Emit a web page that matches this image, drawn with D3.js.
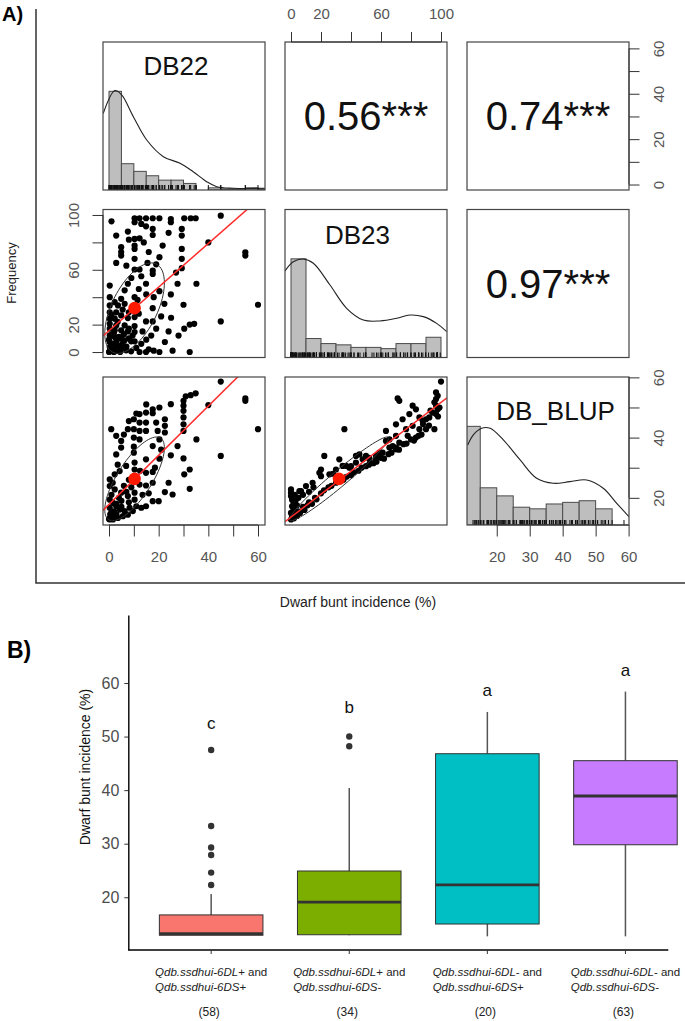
<!DOCTYPE html>
<html>
<head>
<meta charset="utf-8">
<script src="https://cdn.jsdelivr.net/npm/d3@7"></script>
<style>
  body { margin: 0; background: #fff; }
  svg { display: block; font-family: "Liberation Sans", Arial, sans-serif; }
</style>
</head>
<body>
<script>
// ---------- A) pairs plot ----------
const vars = ["DB22", "DB23", "DB_BLUP"]
const ranges = [[0, 60.4], [0, 100], [12.8, 58.3]]
const means = [10.3, 32, 26.3]
const sds = [12, 33, 13.9]

// upper cells [row, col]
const corrCells = [[0, 1], [0, 2], [1, 2]]
const corrLabels = ["0.56***", "0.74***", "0.97***"]
const corrValues = [0.56, 0.74, 0.97]

// lower cells [row, col] and lm fits [intercept, slope]
const lowerCells = [[1, 0], [2, 0], [2, 1]]
const fits = [[15.6, 1.59], [17.8, 0.817], [13.6, 0.381]]

// histograms
const db22Breaks = [0, 5, 10, 15, 20, 25, 30, 35, 40, 45, 50, 55, 60, 65]
const db22Counts = [90, 24, 17, 13, 9, 9, 6, 0, 2, 1, 1, 2, 1]
const db23Breaks = [0, 10, 20, 30, 40, 50, 60, 70, 80, 90, 100]
const db23Counts = [78, 15, 11, 10, 8, 8, 7, 11, 11, 16]
const blupBreaks = [10, 15, 20, 25, 30, 35, 40, 45, 50, 55]
const blupCounts = [61, 23, 18, 11, 10, 13, 14, 15, 10]

// density curves, [value, height in counts]
const db22Density = [[-2.3, 70], [2.4, 90.7], [5.1, 86.7], [9.8, 66.9], [15.2, 45.6], [21.9, 30.4],
  [28.6, 24.4], [33.9, 16.7], [39.3, 7.6], [43.4, 3], [50.1, 1.6], [63.1, 1.6]]
const db23Density = [[-4, 68.4], [1.5, 75.7], [8.2, 77.9], [14.9, 74.5], [26, 57.3], [37.1, 38.9],
  [48.2, 29.6], [59.3, 28.9], [70.5, 31], [79.3, 33.6], [88.2, 32.3], [97.1, 27], [103.8, 20.4]]
const blupDensity = [[11.2, 49.5], [12.9, 55.7], [15.4, 59.8], [18, 59.8], [22, 52.6], [27.1, 40.2],
  [32.1, 28.9], [37.2, 25.8], [42.2, 26.8], [47.3, 27.8], [52.3, 22.7], [56.4, 13.4], [60.1, 5.1]]

// scatter points [x, y]
const db22VsDb23 = [
  [1, 95.4], [10.3, 97.6], [12.3, 97.6], [14.9, 97.6], [17.6, 97.6], [20.3, 97.6], [24.9, 97], [30.3, 97.6],
  [32.9, 97.6], [34.9, 97.6], [45, 99.5], [24.9, 94.7], [10.3, 94.7], [13, 93.5], [14.9, 91.7], [17.6, 89.8],
  [17.6, 85.4], [7.6, 87.9], [2.9, 85], [29.3, 89.8], [29.3, 85], [10.3, 82.5], [12.3, 83], [21.6, 77.7],
  [29.3, 75.2], [40, 80], [10.3, 77.7], [10.3, 75.2], [4.9, 76.5], [4.9, 73], [4.9, 70.4], [20.3, 69.2],
  [29.3, 68], [54.9, 72.8], [54.9, 70.4], [2.9, 65], [10.3, 68], [29.3, 61.2], [10.3, 60.2], [12.3, 60.2],
  [17.6, 59.5], [17.6, 57], [13, 55.3], [14.9, 49.8], [7.6, 49.8], [0.3, 48.5], [27.6, 49.8], [35.2, 49.8],
  [20.3, 44.4], [24.9, 42], [0.3, 40], [6.3, 45], [10.3, 40], [4.9, 38.8], [2.3, 36.4], [0.3, 34], [3.6, 34],
  [6.3, 35.2], [17.6, 32], [22.3, 35.2], [30, 34.5], [60, 34.5], [0.3, 29], [2.9, 29], [0.3, 24.3], [2.3, 24.3],
  [4.9, 26.7], [7.6, 24.8], [10.3, 25.5], [14.9, 22.3], [17.6, 22.3], [45, 22.3], [32.5, 20], [34.3, 20.6],
  [0.3, 20.6], [2.9, 19.4], [6.3, 19.4], [10.3, 18.9], [0.3, 17], [2.3, 15.8], [4.9, 15.8], [7.6, 15],
  [10.3, 14.6], [30.3, 17], [24, 15], [0.3, 12.1], [2.3, 10.9], [4.9, 9.7], [6.3, 8.5], [8.9, 7.8], [10.3, 7.8],
  [22.5, 7.3], [0.3, 7.3], [1.6, 6], [3.6, 4.9], [0.3, 3.6], [2.3, 2.4], [4.3, 1.9], [6.9, 1.2], [0.3, 0.5],
  [1.6, 0.5], [8.9, 0.5], [12.3, 0], [14.9, 0], [20.3, 0], [25.6, 1], [32.5, 0],
  [0, 0], [0.8, 1.5], [1.2, 3], [2, 0], [2.8, 0.8], [3.5, 2.8], [4.5, 0], [5.5, 3.5], [0, 9], [1, 12.5],
  [2, 14], [3, 8], [4, 11], [5.5, 6], [7, 4], [8, 10], [9.5, 12], [11, 3], [13, 6], [16, 2], [18, 1], [6, 13],
  [8, 17], [3.5, 22], [1, 27], [5.5, 31], [8, 29], [12, 28], [13.5, 15], [15, 9], [17, 12], [19, 17], [21, 26],
  [11.5, 38], [15, 42], [18, 40], [9, 54], [7, 63], [19, 64], [16, 73], [14, 80], [8, 82], [24, 87], [27, 58],
  [25, 25], [28, 12], [12, 46], [15.5, 65]
]
const db22VsBlup = [
  [45, 58.6], [54.9, 53], [54.9, 52.2], [60, 42.8], [45, 33.9], [40, 50.8], [35.2, 39.4], [34.9, 54.7],
  [32.9, 54.1], [30.9, 53.7], [30, 52.2], [30, 50.6], [30, 48.9], [30, 46.7], [30, 44.4], [30, 42.2], [30, 33.1],
  [30.3, 27.8], [32.5, 29.4], [32.5, 23], [24.9, 51.1], [27.6, 37.2], [24.9, 34.1], [24, 25], [25.6, 21.1],
  [22.5, 46.1], [22.5, 43.9], [22.5, 41.7], [20.3, 50], [17.6, 49.4], [17.6, 48.1], [14.9, 48.3], [12.3, 47.8],
  [19.6, 42.2], [20.3, 39.4], [20.3, 33], [22.5, 21.9], [20, 18.9], [17.6, 37.2], [17.6, 28.6], [17.6, 25],
  [14.9, 45], [14.9, 42.2], [12.3, 45], [12.3, 42.2], [12.3, 39.4], [10, 46.1], [10, 42.8], [10, 40], [10, 37],
  [10, 35], [7.6, 42.8], [4.9, 38.9], [4.9, 36.7], [2.9, 40.6], [0.9, 42.8], [2.9, 34.4], [14.9, 32.8],
  [14.9, 28.3], [12.3, 24.4], [14.9, 24.1], [10.3, 31.7], [10.3, 29.4], [10.3, 21.7], [10.3, 19.4], [6.9, 30.6],
  [4.3, 28.9], [2.3, 27.8], [0.3, 26.1], [0.3, 23.9], [2.3, 22.8], [4.9, 21.7], [7.6, 20.6], [0.3, 19.4],
  [1.6, 18.3], [2.9, 17.2], [4.3, 16.1], [6.3, 15.6], [8.3, 16.7], [11, 17.2], [13, 16.7], [14.9, 17.2],
  [17.6, 18.9], [0.3, 16.7], [0.9, 15], [2.3, 13.9], [0.3, 12.8], [1.6, 12.8], [3.6, 13.3], [5.6, 13.9],
  [7.6, 14.4], [9.6, 15.6], [0, 13], [1, 14], [2, 15.5], [3, 18], [4, 20], [5, 19], [6, 24], [7, 22], [8, 26],
  [9, 23.5], [11, 26], [12.5, 29], [13.5, 21], [16, 21.5], [18.5, 30], [21, 36], [19, 45], [15, 51], [11, 48],
  [8, 45.5], [6, 41], [3.5, 31], [1.5, 25], [1, 21], [0.5, 14.5], [3, 14.5], [5, 17], [8, 18.5]
]
const db23VsBlup = [
  [100, 58.6], [96.7, 55], [97.8, 53.9], [96.7, 52.8], [95.6, 51.7], [96.7, 50.6], [97.8, 49.4], [94.4, 48.3],
  [96.7, 47.8], [92.2, 46.7], [90, 46.1], [87.8, 45.6], [95.6, 42.8], [98, 47], [99, 50], [93, 49],
  [71.1, 53], [72.2, 52.2], [35.6, 42.8], [81.1, 50.6], [83.3, 49.4], [78.9, 47.8], [85.6, 46.7], [74.4, 46.1],
  [81.1, 43.9], [76.7, 42.8], [85.6, 42.8], [70, 44.4], [63.3, 42.2], [70, 40.6], [77.8, 40.6], [83.3, 40],
  [72.2, 38.3], [65.6, 36.7], [61.1, 35], [56.7, 33.9], [52.2, 32.8], [47.8, 32.8], [50, 33.9], [43.3, 31.7],
  [36.7, 30.6], [30, 29.4], [25.6, 27.8], [20, 27.2], [14.4, 25], [10, 23.9], [5.6, 22.2],
  [60, 33.3], [65, 34.5], [70, 36.1], [75, 37.8], [80, 39.4], [85, 40.6], [90, 42.8], [88, 44.5], [92, 44],
  [55, 31.5], [50, 30.5], [45, 29], [40, 27.5], [35, 26], [30, 25], [25, 23.5], [20, 21.5], [16, 20], [12, 18.5],
  [8, 17], [5, 15.5], [3, 14.5], [1, 13.5], [0, 12.8], [2, 13.2], [4, 14], [6, 15], [9, 16], [11, 17.5],
  [14, 18], [17, 19.5], [22, 22.5], [27, 24], [32, 25.5], [37, 27], [42, 28.5], [47, 30], [52, 31], [57, 32],
  [62, 33], [67, 35], [72, 36], [77, 38], [82, 39], [87, 41],
  [22.2, 33.9], [6.7, 22.2], [20, 29.4], [18.9, 28.3], [32.2, 32.8], [34.4, 30.6], [38.9, 30], [43.3, 33.9],
  [45.6, 34.4], [52.2, 33.3], [56.7, 32.8], [58.9, 35], [63.3, 38.9], [65.6, 39.4], [67.8, 37.2], [70, 36.7],
  [0, 22.8], [0, 21.7], [0, 20.6], [0.7, 19.4], [1.7, 18.3], [0.7, 17.2], [1.7, 16.1], [0, 15], [0.7, 13.9],
  [3, 19], [4, 17.5], [2.5, 21], [5, 20], [8, 21], [12, 22], [15, 23.5], [28, 28], [40, 30.5]
]

// axis ticks and the labels R kept
const db22Ticks = [0, 10, 20, 30, 40, 50, 60]
const db22TickLabels = [0, 20, 40, 60]
const db23Ticks = [0, 20, 40, 60, 80, 100]
const db23TickLabels = [0, 20, 60, 100]
const blupTicks = [20, 30, 40, 50, 60]
const blupTickLabelsX = [20, 30, 40, 50, 60]
const blupTickLabelsY = [20, 40, 60]

// ---------- B) boxplot ----------
const groups = ["DL+DS+", "DL+DS-", "DL-DS+", "DL-DS-"]
const labelLine1 = [["Qdb.ssdhui-6DL", "+ and"], ["Qdb.ssdhui-6DL", "+ and"], ["Qdb.ssdhui-6DL", "- and"], ["Qdb.ssdhui-6DL", "- and"]]
const labelLine2 = [["Qdb.ssdhui-6DS", "+"], ["Qdb.ssdhui-6DS", "-"], ["Qdb.ssdhui-6DS", "+"], ["Qdb.ssdhui-6DS", "-"]]
const groupN = ["(58)", "(34)", "(20)", "(63)"]
const whiskLow = [12.9, 12.9, 12.7, 12.7]
const q1 = [12.9, 13.0, 15.0, 29.8]
const med = [13.2, 19.1, 22.3, 38.9]
const q3 = [16.7, 24.9, 46.8, 45.5]
const whiskHigh = [20.6, 40.4, 54.6, 58.4]
const outliers = [[22.3, 24.6, 27.9, 29.3, 33.3, 47.5], [48.2, 50.0], [], []]
const letters = ["c", "b", "a", "a"]
const letterAt = [51.5, 54.4, 57.5, 61.4]
const bTicks = [20, 30, 40, 50, 60]

// ---------- drawing ----------
const svg = d3.select("body").append("svg").attr("width", 685).attr("height", 1021)

const cellX = [103, 285, 467]
const cellY = [42, 209.5, 377]
const cellW = 162
const cellH = 148

const pad = r => (r[1] - r[0]) * 0.04
const xs = ranges.map((r, i) => d3.scaleLinear([r[0] - pad(r), r[1] + pad(r)], [cellX[i], cellX[i] + cellW]))
const ys = ranges.map((r, i) => d3.scaleLinear([r[0] - pad(r), r[1] + pad(r)], [cellY[i] + cellH, cellY[i]]))

const defs = svg.append("defs")
for (let r = 0; r < 3; r++) for (let c = 0; c < 3; c++) {
  defs.append("clipPath").attr("id", `clip-${r}-${c}`)
    .append("rect").attr("x", cellX[c]).attr("y", cellY[r]).attr("width", cellW).attr("height", cellH)
}

// diagonal: histograms, densities, rugs
const hists = [
  { breaks: db22Breaks, counts: db22Counts, dens: db22Density, rug: db22VsDb23.map(d => d[0]) },
  { breaks: db23Breaks, counts: db23Counts, dens: db23Density, rug: db22VsDb23.map(d => d[1]) },
  { breaks: blupBreaks, counts: blupCounts, dens: blupDensity, rug: db23VsBlup.map(d => d[1]) }
]
const diagLabelPos = [[73, 33], [72.5, 34.5], [88.5, 43]]

hists.forEach((h, i) => {
  const x = xs[i]
  const bottom = cellY[i] + cellH
  const hy = d3.scaleLinear([0, d3.max(h.counts) * 1.5], [bottom, cellY[i]])
  const g = svg.append("g").attr("clip-path", `url(#clip-${i}-${i})`)

  g.selectAll("rect.bar")
    .data(h.counts)
    .join("rect")
    .attr("x", (d, k) => x(h.breaks[k]))
    .attr("width", (d, k) => x(h.breaks[k + 1]) - x(h.breaks[k]))
    .attr("y", d => hy(d))
    .attr("height", d => hy(0) - hy(d))
    .attr("fill", "#bebebe")
    .attr("stroke", "#4a4a4a")
    .attr("stroke-width", 1)

  g.append("path")
    .datum(h.dens)
    .attr("fill", "none")
    .attr("stroke", "#222")
    .attr("stroke-width", 1.1)
    .attr("d", d3.line().x(d => x(d[0])).y(d => hy(d[1])).curve(d3.curveCatmullRom))

  g.selectAll("line.rug")
    .data(h.rug)
    .join("line")
    .attr("x1", d => x(d)).attr("x2", d => x(d))
    .attr("y1", bottom).attr("y2", bottom - 5)
    .attr("stroke", "#111")
    .attr("stroke-width", 1)

  svg.append("text")
    .attr("x", cellX[i] + diagLabelPos[i][0])
    .attr("y", cellY[i] + diagLabelPos[i][1])
    .attr("text-anchor", "middle")
    .attr("font-size", 26)
    .attr("fill", "#111")
    .text(vars[i])
})

// upper: correlations
corrCells.forEach(([r, c], k) => {
  svg.append("text")
    .attr("x", cellX[c] + cellW / 2)
    .attr("y", cellY[r] + cellH / 2)
    .attr("dy", "0.36em")
    .attr("text-anchor", "middle")
    .attr("font-size", 40)
    .attr("fill", "#111")
    .text(corrLabels[k])
})

// lower: scatter, ellipse, lm line, mean
const scatters = [db22VsDb23, db22VsBlup, db23VsBlup]
lowerCells.forEach(([r, c], k) => {
  const x = xs[c], y = ys[r]
  const g = svg.append("g").attr("clip-path", `url(#clip-${r}-${c})`)

  g.selectAll("circle.pt")
    .data(scatters[k])
    .join("circle")
    .attr("cx", d => x(d[0]))
    .attr("cy", d => y(d[1]))
    .attr("r", 3.1)
    .attr("fill", "#000")

  const rho = corrValues[k]
  const th = 1 / Math.SQRT2
  const ell = d3.range(0, 2 * Math.PI + 0.05, Math.PI / 40).map(t => {
    const u = Math.cos(t), w = Math.sin(t)
    const ex = u * Math.sqrt(1 + rho) * th - w * Math.sqrt(1 - rho) * th
    const ey = u * Math.sqrt(1 + rho) * th + w * Math.sqrt(1 - rho) * th
    return [means[c] + ex * sds[c], means[r] + ey * sds[r]]
  })
  g.append("path")
    .datum(ell)
    .attr("fill", "none")
    .attr("stroke", "#333")
    .attr("stroke-width", 1)
    .attr("d", d3.line().x(d => x(d[0])).y(d => y(d[1])))

  const [a, b] = fits[k]
  const [x0, x1] = x.domain()
  g.append("line")
    .attr("x1", x(x0)).attr("y1", y(a + b * x0))
    .attr("x2", x(x1)).attr("y2", y(a + b * x1))
    .attr("stroke", "#ff2a2a")
    .attr("stroke-width", 1.5)

  g.append("circle")
    .attr("cx", x(means[c]))
    .attr("cy", y(means[r]))
    .attr("r", 6.3)
    .attr("fill", "#ff1a00")
})

// cell borders
for (let r = 0; r < 3; r++) for (let c = 0; c < 3; c++) {
  svg.append("rect")
    .attr("x", cellX[c]).attr("y", cellY[r])
    .attr("width", cellW).attr("height", cellH)
    .attr("fill", "none")
    .attr("stroke", "#444")
    .attr("stroke-width", 1.2)
}

// axes of the pairs plot
function styleAxis(g, scale, ticks, horizontal) {
  g.select(".domain").remove()
  g.selectAll(".tick line").attr("stroke", "#333")
  g.selectAll("text").attr("font-size", 15).attr("fill", "#555").attr("font-family", "Liberation Sans, Arial, sans-serif")
  const a = scale(ticks[0]), b = scale(ticks[ticks.length - 1])
  g.append("line")
    .attr(horizontal ? "x1" : "y1", a).attr(horizontal ? "x2" : "y2", b)
    .attr("stroke", "#333")
}
const fmt = shown => d => shown.includes(d) ? d : ""

svg.append("g").attr("transform", `translate(0,${cellY[0]})`)
  .call(d3.axisTop(xs[1]).tickValues(db23Ticks).tickFormat(fmt(db23TickLabels)).tickSize(10).tickPadding(13))
  .call(g => styleAxis(g, xs[1], db23Ticks, true))

svg.append("g").attr("transform", `translate(0,${cellY[2] + cellH})`)
  .call(d3.axisBottom(xs[0]).tickValues(db22Ticks).tickFormat(fmt(db22TickLabels)).tickSize(11.5).tickPadding(15))
  .call(g => styleAxis(g, xs[0], db22Ticks, true))

svg.append("g").attr("transform", `translate(0,${cellY[2] + cellH})`)
  .call(d3.axisBottom(xs[2]).tickValues(blupTicks).tickFormat(fmt(blupTickLabelsX)).tickSize(11.5).tickPadding(15))
  .call(g => styleAxis(g, xs[2], blupTicks, true))

function vertAxis(axis, xPos, scale, ticks, shown, labelOffset) {
  svg.append("g").attr("transform", `translate(${xPos},0)`)
    .call(axis(scale).tickValues(ticks).tickFormat(fmt(shown)).tickSize(10.5))
    .call(g => styleAxis(g, scale, ticks, false))
    .call(g => g.selectAll(".tick text")
      .attr("x", null).attr("y", null).attr("dy", "0.35em")
      .attr("text-anchor", "middle")
      .attr("transform", `translate(${labelOffset},0) rotate(-90)`))
}
vertAxis(d3.axisRight, cellX[2] + cellW, ys[0], db22Ticks, db22TickLabels, 30)
vertAxis(d3.axisLeft, cellX[0], ys[1], db23Ticks, db23TickLabels, -29.5)
vertAxis(d3.axisRight, cellX[2] + cellW, ys[2], blupTicks, blupTickLabelsY, 30)

// frame and titles of A
svg.append("path")
  .attr("d", "M36,9V583H685")
  .attr("fill", "none")
  .attr("stroke", "#333")
  .attr("stroke-width", 1.5)

svg.append("text").attr("x", 2).attr("y", 21).attr("font-size", 20).attr("font-weight", "bold").text("A)")
svg.append("text")
  .attr("transform", "translate(11,273) rotate(-90)")
  .attr("dy", "0.35em")
  .attr("text-anchor", "middle")
  .attr("font-size", 13)
  .attr("fill", "#222")
  .text("Frequency")
svg.append("text")
  .attr("x", 358).attr("y", 607)
  .attr("text-anchor", "middle")
  .attr("font-size", 14)
  .attr("fill", "#222")
  .text("Dwarf bunt incidence (%)")

// ---------- B ----------
const by = d3.scaleLinear([10.15, 72.7], [950, 615])
const bx = d3.scalePoint(groups, [128.3, 708.3]).padding(0.6)
const boxW = bx.step() * 0.75
const boxFill = ["#F8766D", "#7CAE00", "#00BFC4", "#C77CFF"]

svg.append("text").attr("x", 7).attr("y", 658).attr("font-size", 23).attr("font-weight", "bold").text("B)")

const bAxis = svg.append("g").attr("transform", "translate(128.3,0)")
  .call(d3.axisLeft(by).tickValues(bTicks).tickSize(4).tickSizeOuter(0).tickPadding(5))
bAxis.select(".domain").attr("stroke", "#000").attr("stroke-width", 1.4)
bAxis.selectAll(".tick line").attr("stroke", "#333")
bAxis.selectAll("text").attr("font-size", 16).attr("fill", "#4d4d4d")

svg.append("line")
  .attr("x1", 128.3).attr("x2", 668.3)
  .attr("y1", 950).attr("y2", 950)
  .attr("stroke", "#000").attr("stroke-width", 1.4)

svg.append("text")
  .attr("transform", "translate(85,767) rotate(-90)")
  .attr("dy", "0.35em")
  .attr("text-anchor", "middle")
  .attr("font-size", 14)
  .attr("fill", "#111")
  .text("Dwarf bunt incidence (%)")

groups.forEach((gname, i) => {
  const cx = bx(gname)
  const g = svg.append("g")

  g.append("line").attr("x1", cx).attr("x2", cx).attr("y1", 950).attr("y2", 954).attr("stroke", "#333")

  g.append("line").attr("x1", cx).attr("x2", cx)
    .attr("y1", by(q3[i])).attr("y2", by(whiskHigh[i]))
    .attr("stroke", "#555").attr("stroke-width", 1.5)
  g.append("line").attr("x1", cx).attr("x2", cx)
    .attr("y1", by(q1[i])).attr("y2", by(whiskLow[i]))
    .attr("stroke", "#555").attr("stroke-width", 1.5)

  g.append("rect")
    .attr("x", cx - boxW / 2).attr("width", boxW)
    .attr("y", by(q3[i])).attr("height", by(q1[i]) - by(q3[i]))
    .attr("fill", boxFill[i])
    .attr("stroke", "#333").attr("stroke-width", 1)

  g.append("line")
    .attr("x1", cx - boxW / 2).attr("x2", cx + boxW / 2)
    .attr("y1", by(med[i])).attr("y2", by(med[i]))
    .attr("stroke", "#333").attr("stroke-width", 2.8)

  g.selectAll("circle")
    .data(outliers[i])
    .join("circle")
    .attr("cx", cx).attr("cy", d => by(d))
    .attr("r", 3.2).attr("fill", "#333")

  g.append("text")
    .attr("x", cx).attr("y", by(letterAt[i]))
    .attr("text-anchor", "middle")
    .attr("font-size", 17)
    .attr("fill", "#111")
    .text(letters[i])

  const lab = g.append("text").attr("font-size", 11.5).attr("fill", "#222")
  const l1 = lab.append("tspan").attr("y", 976)
  l1.append("tspan").attr("font-style", "italic").text(labelLine1[i][0])
  l1.append("tspan").text(labelLine1[i][1])
  const l2 = lab.append("tspan").attr("y", 990.5)
  l2.append("tspan").attr("font-style", "italic").text(labelLine2[i][0])
  l2.append("tspan").text(labelLine2[i][1])
  const w1 = l1.node().getComputedTextLength()
  l1.attr("x", cx - w1 / 2)
  l2.attr("x", cx - w1 / 2)

  g.append("text")
    .attr("x", cx - 2).attr("y", 1015.5)
    .attr("text-anchor", "middle")
    .attr("font-size", 12)
    .attr("fill", "#222")
    .text(groupN[i])
})
</script>
</body>
</html>
